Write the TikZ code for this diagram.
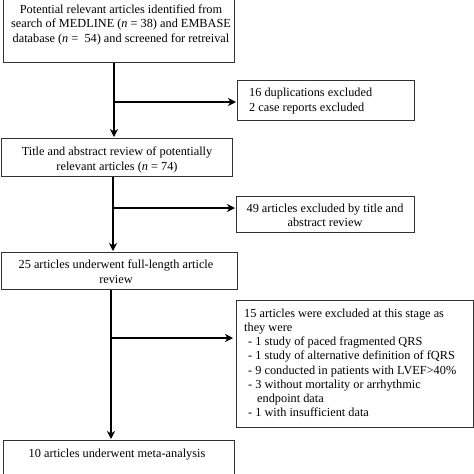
\documentclass[tikz,border=0pt]{standalone}
\usepackage{fontspec}
\setmainfont{Liberation Serif}
\usetikzlibrary{arrows.meta}
\begin{document}
\begin{tikzpicture}[x=1pt,y=-1pt,
  box/.style={draw=black!80, line width=0.9pt, inner sep=0pt, anchor=north west},
  txt/.style={inner sep=0pt, font=\fontsize{12.3}{14.2}\selectfont},
  arr/.style={line width=1.8pt, -{Stealth[length=8pt,width=8pt,inset=2.5pt]}, shorten >=1pt}]
\useasboundingbox (0,0) rectangle (474,474);
% boxes
\node[box, minimum width=231pt, minimum height=67pt] (b1) at (3,-5) {};
\node[box, minimum width=177pt, minimum height=40pt] (b2) at (237,80) {};
\node[box, minimum width=231pt, minimum height=38pt] (b3) at (1,138) {};
\node[box, minimum width=178pt, minimum height=36pt] (b4) at (236,196) {};
\node[box, minimum width=236pt, minimum height=37pt] (b5) at (1,252) {};
\node[box, minimum width=237pt, minimum height=127pt] (b6) at (236,300) {};
\node[box, minimum width=231pt, minimum height=50pt] (b7) at (3,440) {};
% texts
\node[txt, anchor=north, align=center] (t1) at (121,4.9)
  {Potential relevant articles identified from\\
   search of MEDLINE (\textit{n} = 38) and EMBASE\\
   database (\textit{n} =\enspace 54) and screened for retreival};
\node[txt, anchor=north west, align=left] (t2) at (249,88.1)
  {16 duplications excluded\\2 case reports excluded};
\node[txt, anchor=north, align=center] (t3) at (117,147.1)
  {Title and abstract review of potentially\\relevant articles (\textit{n} = 74)};
\node[txt, anchor=north, align=center] (t4) at (325,203.6)
  {49 articles excluded by title and\\abstract review};
\node[txt, anchor=north, align=center] (t5) at (116,260.1)
  {25 articles underwent full-length article\\review};
\node[txt, anchor=north west, align=left] (t6) at (244,308.6)
  {15 articles were excluded at this stage as\\
   they were\\
   \hspace*{4pt}- 1 study of paced fragmented QRS\\
   \hspace*{4pt}- 1 study of alternative definition of fQRS\\
   \hspace*{4pt}- 9 conducted in patients with LVEF>40\%\\
   \hspace*{4pt}- 3 without mortality or arrhythmic\\
   \hspace*{13pt}endpoint data\\
   \hspace*{4pt}- 1 with insufficient data};
\node[txt, anchor=north, align=center] (t7) at (117,448.3)
  {10 articles underwent meta-analysis};
% junctions
\coordinate (j1) at (114,102);
\coordinate (j2) at (113,208);
\coordinate (j3) at (111,338);
% connectors
\draw[arr] (b1.south -| j1) -- (b3.north -| j1);
\draw[arr] (j1) -- (b2.west |- j1);
\draw[arr] (b3.south -| j2) -- (b5.north -| j2);
\draw[arr] (j2) -- (b4.west |- j2);
\draw[arr] (b5.south -| j3) -- (b7.north -| j3);
\draw[arr, shorten >=3pt] (j3) -- (b6.west |- j3);
\end{tikzpicture}
\end{document}
